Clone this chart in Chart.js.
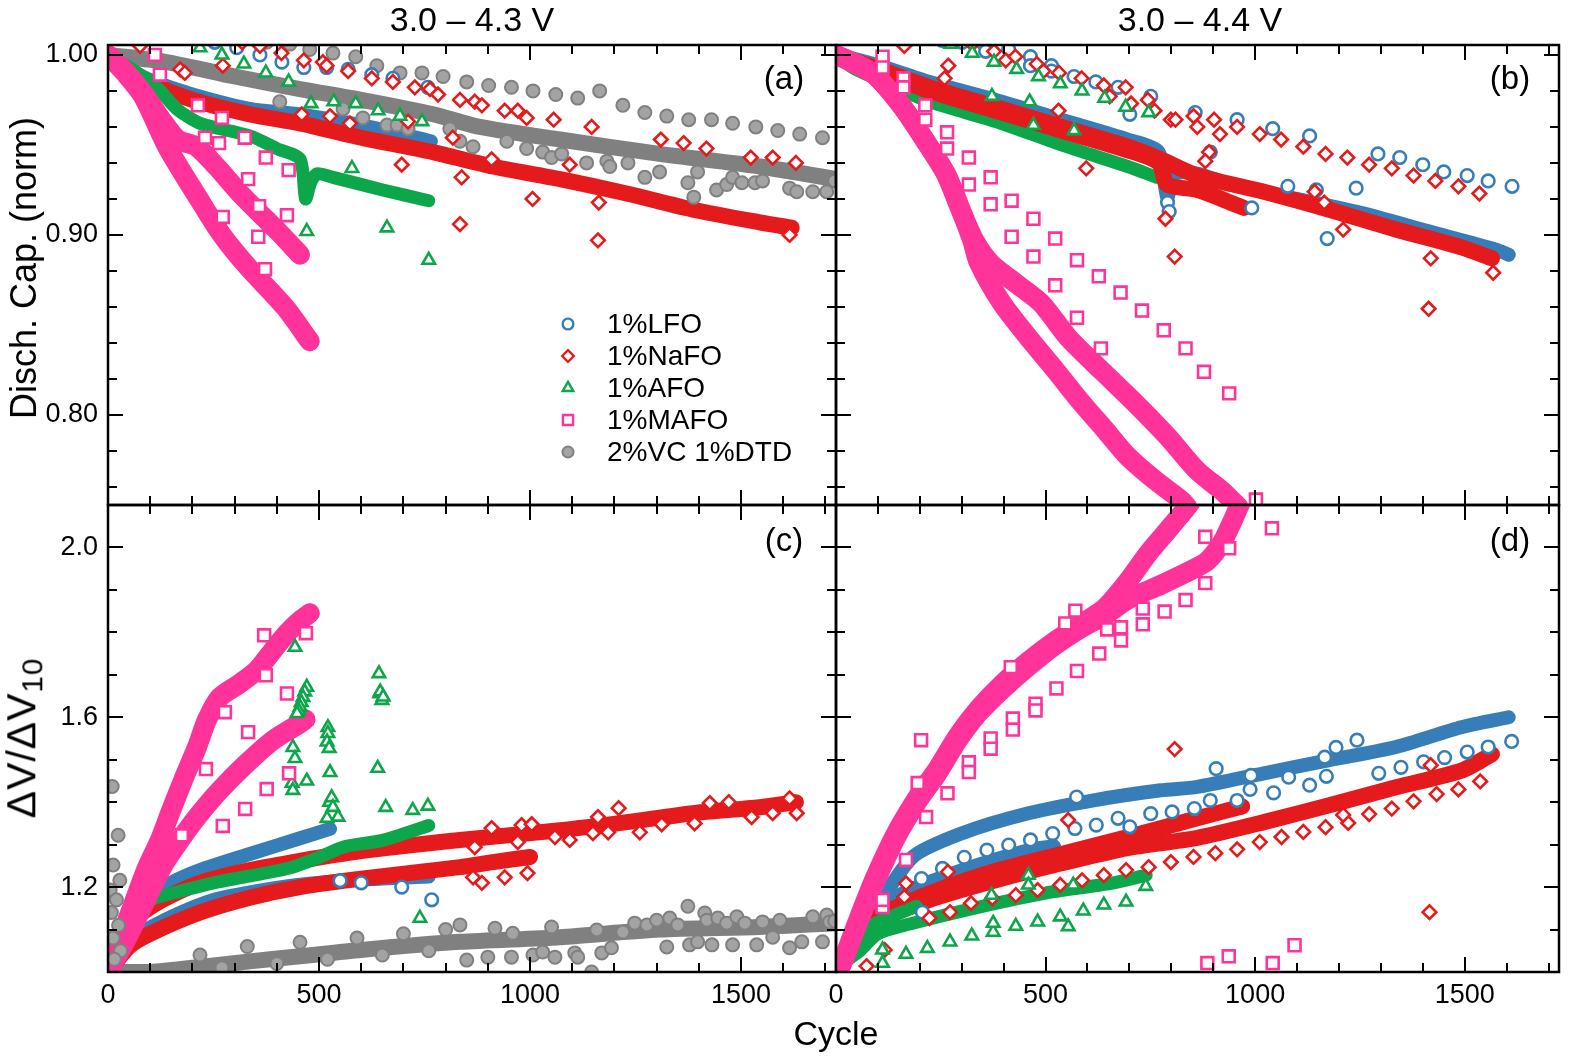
<!DOCTYPE html>
<html>
<head>
<meta charset="utf-8">
<script src="https://cdn.jsdelivr.net/npm/chart.js@4.4.1/dist/chart.umd.min.js"></script>
<style>
  body { margin: 0; background: #fff; width: 1570px; height: 1057px; position: relative; overflow: hidden;
         font-family: "Liberation Sans", Arial, sans-serif; color: #000; }
  canvas { position: absolute; left: 0; top: 0; }
  .t { position: absolute; transform: translate(-50%, -50%); white-space: nowrap; font-size: 34px; z-index: 5; }
  .rot { transform: translate(-50%, -50%) rotate(-90deg); font-size: 36px; }
  sub { font-size: 0.72em; vertical-align: -0.25em; }
</style>
</head>
<body>
<canvas id="pa" width="1570" height="1057"></canvas>
<canvas id="pb" width="1570" height="1057"></canvas>
<canvas id="pc" width="1570" height="1057"></canvas>
<canvas id="pd" width="1570" height="1057"></canvas>

<div class="t" style="left:472px;top:19px">3.0 – 4.3 V</div>
<div class="t" style="left:1200px;top:19px">3.0 – 4.4 V</div>
<div class="t rot" style="left:24px;top:268px">Disch. Cap. (norm)</div>
<div class="t rot" style="left:24px;top:738px;font-size:41px;letter-spacing:1px">ΔV/ΔV<sub>10</sub></div>
<div class="t" style="left:836px;top:1033px">Cycle</div>
<div class="t" style="left:784px;top:78px;font-size:33px">(a)</div>
<div class="t" style="left:1510px;top:78px;font-size:33px">(b)</div>
<div class="t" style="left:784px;top:540px;font-size:33px">(c)</div>
<div class="t" style="left:1510px;top:540px;font-size:33px">(d)</div>

<script>
// Axis ranges and tick labels
const CYCLE_MAX = 1725;
const xTickLabels = [0, 500, 1000, 1500];
const capTickLabels = [0.8, 0.9, 1.0];
const dvTickLabels = [1.2, 1.6, 2.0];
const seriesNames = ['1%LFO', '1%NaFO', '1%AFO', '1%MAFO', '2%VC 1%DTD'];

// ---- (a) 3.0-4.3 V, normalized discharge capacity: [cycle, value]
const aBlueBand = [[0,1.0],[50,0.992],[100,0.986],[200,0.978],[336,0.970],[455,0.967],[600,0.961],[765,0.952]];
const aBluePts = [[253,1.007],[305,1.004],[360,1.0],[412,0.996],[464,0.993],[518,0.993],[569,0.992],[625,0.989],[675,0.987],[758,0.982]];
const aRedBand = [[0,1.0],[50,0.99],[100,0.984],[200,0.975],[336,0.967],[455,0.962],[600,0.954],[770,0.946],[912,0.938],[1071,0.931],[1229,0.923],[1386,0.914],[1544,0.907],[1620,0.904]];
const aRedPts = [[76,1.005],[171,0.992],[182,0.990],[272,0.994],[318,1.007],[360,1.005],[411,1.001],[464,0.997],[509,0.996],[518,0.994],[569,0.991],[625,0.987],[675,0.985],[727,0.982],[763,0.981],[782,0.978],[834,0.975],[869,0.974],[886,0.972],[940,0.969],[971,0.969],[992,0.965],[1056,0.964],[1146,0.960],[1310,0.953],[1364,0.951],[1418,0.948],[1523,0.943],[1575,0.943],[1630,0.940],[459,0.967],[526,0.966],[573,0.962],[711,0.963],[817,0.954],[909,0.942],[1094,0.939],[696,0.939],[838,0.932],[1006,0.920],[1163,0.918],[834,0.906],[1161,0.897],[1615,0.900]];
const aGreenBand = [[0,1.0],[50,0.993],[116,0.982],[163,0.970],[218,0.962],[336,0.955],[400,0.948],[455,0.942],[468,0.920],[480,0.929],[495,0.934],[533,0.932],[651,0.925],[760,0.919]];
const aGreenPts = [[218,1.004],[270,1.0],[322,0.995],[374,0.99],[428,0.985],[481,0.973],[535,0.974],[587,0.973],[640,0.969],[692,0.966],[744,0.963],[578,0.937],[471,0.902],[661,0.904],[760,0.886]];
const aPinkBand1 = [[0,1.0],[40,0.99],[83,0.977],[140,0.949],[178,0.934],[218,0.919],[258,0.904],[296,0.892],[336,0.881],[419,0.860],[478,0.841]];
const aPinkBand2 = [[0,1.0],[40,0.991],[83,0.979],[130,0.963],[165,0.953],[210,0.949],[257,0.938],[313,0.923],[360,0.912],[407,0.901],[455,0.889]];
const aPinkPts = [[111,1.0],[123,0.989],[213,0.972],[270,0.965],[230,0.954],[263,0.951],[324,0.954],[374,0.943],[428,0.936],[332,0.931],[358,0.916],[424,0.911],[272,0.910],[356,0.899],[372,0.881]];
const aGrayBand = [[0,1.0],[139,0.996],[300,0.988],[455,0.981],[600,0.975],[770,0.967],[881,0.960],[1071,0.953],[1307,0.945],[1544,0.938],[1725,0.931]];
const aGrayPts = [[376,1.007],[431,1.006],[478,1.003],[533,1.001],[587,0.999],[637,0.994],[692,0.99],[744,0.99],[794,0.988],[850,0.985],[902,0.983],[956,0.982],[1007,0.98],[1061,0.978],[1113,0.976],[1165,0.98],[1220,0.972],[1272,0.968],[1324,0.966],[1376,0.964],[1430,0.964],[1480,0.962],[1535,0.96],[1587,0.958],[1639,0.956],[1693,0.954],
  [407,0.974],[557,0.970],[604,0.965],[661,0.961],[685,0.961],[711,0.959],[810,0.959],[834,0.952],[865,0.949],[945,0.952],[992,0.948],[1030,0.946],[1051,0.943],[1075,0.945],[1134,0.94],[1182,0.941],[1189,0.938],[1232,0.94],[1272,0.932],[1307,0.935],[1374,0.929],[1388,0.921],[1397,0.935],[1442,0.925],[1466,0.928],[1480,0.932],[1502,0.929],[1533,0.929],[1551,0.93],[1615,0.926],[1632,0.924],[1670,0.924],[1703,0.924],[1722,0.930]];

// ---- (b) 3.0-4.4 V, normalized discharge capacity
const bBlueBand = [[0,1.0],[40,0.998],[104,0.994],[223,0.985],[381,0.975],[538,0.964],[696,0.953],[770,0.946],[790,0.921],[810,0.934],[862,0.934],[941,0.928],[1099,0.920],[1257,0.912],[1414,0.902],[1573,0.892],[1605,0.889]];
const bBluePts = [[253,1.008],[301,1.007],[353,1.006],[357,1.002],[412,1.003],[464,0.999],[464,0.994],[514,0.994],[514,0.991],[568,0.988],[620,0.985],[673,0.982],[701,0.967],[751,0.977],[857,0.968],[893,0.946],[957,0.964],[1042,0.959],[1130,0.955],[1078,0.927],[1146,0.925],[1241,0.926],[1293,0.945],[1345,0.943],[1400,0.939],[1450,0.935],[1506,0.933],[1556,0.93],[1613,0.927],[1172,0.898],[992,0.915],[791,0.918],[795,0.913]];
const bRedBand1 = [[0,1.0],[40,0.997],[104,0.992],[223,0.982],[381,0.971],[538,0.960],[696,0.949],[775,0.942],[862,0.933],[1021,0.924],[1177,0.914],[1336,0.903],[1494,0.893],[1565,0.887]];
const bRedBand2 = [[0,1.0],[104,0.991],[223,0.980],[381,0.969],[538,0.958],[696,0.947],[770,0.940],[790,0.928],[862,0.925],[920,0.920],[973,0.915]];
const bRedPts = [[163,1.005],[268,0.994],[259,0.987],[325,1.006],[377,1.002],[405,0.997],[428,0.999],[479,0.995],[495,0.991],[532,0.99],[586,0.987],[639,0.983],[653,0.977],[691,0.982],[704,0.973],[744,0.975],[760,0.969],[799,0.964],[810,0.964],[853,0.966],[862,0.96],[531,0.969],[597,0.937],[786,0.909],[808,0.888],[902,0.964],[916,0.956],[957,0.96],[1011,0.956],[1062,0.953],[1115,0.949],[1168,0.945],[1220,0.943],[1272,0.939],[1326,0.937],[1378,0.933],[1430,0.93],[1485,0.927],[1535,0.923],[890,0.946],[881,0.941],[1142,0.924],[1165,0.918],[1210,0.903],[1419,0.887],[1568,0.879],[1414,0.859]];
const bGreenBand = [[0,1.0],[40,0.993],[104,0.986],[223,0.974],[381,0.963],[538,0.950],[696,0.938],[765,0.932]];
const bGreenPts = [[274,1.006],[325,1.001],[377,0.996],[431,0.992],[483,0.988],[535,0.984],[587,0.98],[641,0.976],[691,0.971],[746,0.968],[372,0.977],[462,0.974],[471,0.961],[568,0.958]];
const bPinkBand1 = [[0,1.0],[30,0.997],[92,0.989],[159,0.971],[211,0.953],[262,0.934],[294,0.916],[325,0.897],[340,0.885],[396,0.862],[459,0.843],[523,0.825],[585,0.807],[641,0.792],[696,0.777],[760,0.764],[822,0.753],[838,0.749]];
const bPinkBand2 = [[0,1.0],[30,0.997],[92,0.989],[159,0.971],[211,0.953],[262,0.934],[294,0.916],[330,0.897],[370,0.884],[430,0.873],[490,0.862],[554,0.843],[632,0.825],[712,0.807],[791,0.788],[862,0.769],[920,0.758],[960,0.749]];
const bPinkPts = [[111,0.999],[111,0.993],[161,0.987],[161,0.982],[213,0.972],[213,0.964],[265,0.957],[265,0.948],[317,0.943],[317,0.928],[369,0.932],[369,0.917],[419,0.919],[419,0.899],[471,0.909],[471,0.888],[523,0.898],[523,0.872],[575,0.886],[575,0.854],[627,0.877],[632,0.837],[679,0.868],[730,0.858],[782,0.847],[834,0.837],[878,0.824],[938,0.812],[1002,0.753]];

// ---- (c) 3.0-4.3 V, dV/dV10
const cBlueBand1 = [[0,1.0],[40,1.10],[80,1.16],[150,1.21],[218,1.24],[336,1.278],[455,1.315],[526,1.337]];
const cBlueBand2 = [[0,1.0],[60,1.08],[150,1.13],[250,1.17],[350,1.19],[450,1.205],[560,1.215],[650,1.22],[760,1.225]];
const cBluePts = [[550,1.215],[600,1.21],[696,1.20],[767,1.17]];
const cRedBand1 = [[0,1.0],[30,1.08],[70,1.13],[130,1.17],[218,1.21],[336,1.24],[455,1.262],[600,1.285],[834,1.311],[1071,1.334],[1229,1.353],[1386,1.374],[1544,1.388],[1630,1.40]];
const cRedBand2 = [[0,1.0],[50,1.06],[100,1.09],[218,1.14],[336,1.175],[455,1.20],[600,1.22],[834,1.247],[912,1.259],[1000,1.271]];
const cRedPts = [[909,1.339],[980,1.346],[1004,1.348],[1059,1.318],[1094,1.311],[1161,1.365],[1185,1.329],[1210,1.386],[1260,1.329],[1312,1.348],[1390,1.35],[1426,1.398],[1471,1.40],[1525,1.365],[1575,1.374],[1615,1.409],[1632,1.374],[865,1.223],[886,1.21],[940,1.223],[994,1.233],[869,1.294],[971,1.306],[1149,1.327]];
const cGreenBand = [[0,1.0],[30,1.09],[60,1.14],[100,1.17],[170,1.19],[250,1.21],[330,1.225],[430,1.245],[500,1.27],[560,1.295],[650,1.31],[760,1.345]];
const cGreenPts = [[471,1.671],[466,1.66],[462,1.647],[458,1.635],[455,1.624],[452,1.615],[448,1.609],[443,1.765],[438,1.529],[443,1.503],[471,1.45],[436,1.445],[438,1.428],[521,1.576],[521,1.562],[519,1.542],[524,1.527],[526,1.47],[525,1.40],[530,1.411],[533,1.388],[545,1.365],[519,1.362],[642,1.703],[644,1.656],[645,1.66],[649,1.64],[652,1.648],[639,1.48],[658,1.388],[722,1.381],[758,1.391],[739,1.127]];
const cPinkBand1 = [[0,1.0],[30,1.08],[60,1.16],[90,1.24],[123,1.311],[147,1.374],[178,1.452],[211,1.53],[234,1.593],[265,1.647],[313,1.68],[352,1.71],[391,1.758],[424,1.798],[455,1.828],[478,1.845]];
const cPinkBand2 = [[0,1.0],[40,1.07],[90,1.17],[130,1.25],[171,1.311],[211,1.365],[265,1.428],[329,1.492],[391,1.546],[455,1.586],[468,1.595]];
const cPinkPts = [[370,1.793],[469,1.798],[374,1.699],[424,1.656],[332,1.565],[232,1.478],[429,1.468],[376,1.431],[325,1.384],[272,1.344],[277,1.612],[175,1.322]];
const cGrayBand = [[0,1.0],[100,1.0],[218,1.012],[336,1.025],[455,1.037],[600,1.052],[834,1.071],[1071,1.082],[1307,1.10],[1544,1.106],[1725,1.115]];
const cGrayPts = [[10,1.437],[24,1.322],[12,1.252],[28,1.216],[5,1.193],[20,1.17],[8,1.14],[25,1.11],[12,1.08],[30,1.05],[15,1.03],
  [218,1.04],[270,1.01],[330,1.06],[400,1.02],[455,1.07],[520,1.03],[590,1.08],[650,1.04],[700,1.09],[760,1.05],[800,1.10],
  [834,1.111],[850,1.028],[900,1.035],[917,1.103],[956,1.035],[959,1.091],[1007,1.04],[1030,1.047],[1051,1.106],[1059,1.035],[1106,1.045],[1113,1.035],[1146,1.0],[1158,1.099],[1170,1.045],[1193,1.057],[1220,1.094],[1248,1.115],[1277,1.111],[1300,1.122],[1324,1.059],[1331,1.127],[1350,1.111],[1374,1.155],[1378,1.064],[1397,1.071],[1414,1.139],[1419,1.122],[1431,1.064],[1445,1.127],[1466,1.115],[1480,1.064],[1490,1.13],[1509,1.115],[1537,1.064],[1551,1.118],[1575,1.082],[1592,1.122],[1615,1.057],[1644,1.071],[1670,1.13],[1693,1.071],[1703,1.134],[1710,1.118],[1722,1.12]];

// ---- (d) 3.0-4.4 V, dV/dV10
const dBlueBand1 = [[0,1.0],[30,1.06],[88,1.139],[183,1.271],[301,1.327],[459,1.374],[618,1.405],[775,1.428],[862,1.436],[1021,1.468],[1177,1.499],[1336,1.53],[1494,1.577],[1605,1.60]];
const dBlueBand2 = [[0,1.0],[50,1.08],[144,1.177],[301,1.24],[459,1.287],[520,1.296]];
const dBluePts = [[574,1.412],[570,1.338],[621,1.346],[673,1.362],[701,1.342],[751,1.373],[802,1.377],[855,1.385],[517,1.326],[464,1.311],[412,1.299],[360,1.287],[306,1.27],[254,1.244],[204,1.22],[206,1.141],[893,1.404],[907,1.479],[957,1.404],[988,1.43],[990,1.463],[1044,1.422],[1080,1.459],[1130,1.44],[1170,1.461],[1166,1.506],[1193,1.529],[1243,1.546],[1295,1.468],[1348,1.482],[1402,1.495],[1452,1.505],[1506,1.518],[1556,1.53],[1612,1.543]];
const dRedBand1 = [[0,1.0],[30,1.06],[64,1.092],[120,1.13],[223,1.17],[381,1.216],[538,1.256],[696,1.292],[862,1.316],[1021,1.353],[1177,1.393],[1336,1.435],[1494,1.475],[1565,1.513]];
const dRedBand2 = [[0,1.0],[40,1.08],[100,1.13],[223,1.185],[381,1.238],[538,1.278],[696,1.318],[862,1.362],[969,1.39]];
const dRedPts = [[167,1.209],[163,1.177],[267,1.236],[272,1.141],[322,1.162],[223,1.127],[373,1.174],[429,1.181],[481,1.193],[535,1.205],[587,1.216],[639,1.228],[692,1.24],[746,1.247],[799,1.259],[853,1.271],[554,1.358],[116,1.052],[73,1.014],[905,1.28],[957,1.289],[1011,1.306],[1063,1.318],[1115,1.33],[1168,1.341],[1222,1.351],[1210,1.37],[1272,1.372],[1326,1.385],[1378,1.402],[1433,1.419],[1485,1.43],[1537,1.449],[1419,1.487],[1416,1.141],[808,1.525]];
const dGreenBand1 = [[0,1.0],[30,1.03],[57,1.05],[100,1.09],[183,1.115],[341,1.153],[500,1.186],[656,1.209],[740,1.228]];
const dGreenBand2 = [[0,1.0],[40,1.07],[64,1.10],[130,1.13],[192,1.155]];
const dGreenPts = [[111,1.021],[111,1.052],[167,1.042],[218,1.056],[272,1.071],[324,1.085],[375,1.094],[375,1.115],[429,1.108],[481,1.118],[535,1.13],[554,1.107],[590,1.144],[639,1.158],[692,1.165],[739,1.202],[459,1.228],[459,1.205],[371,1.181],[566,1.205]];
const dPinkBand1 = [[0,1.0],[10,1.01],[50,1.115],[90,1.215],[145,1.33],[200,1.42],[240,1.475],[290,1.555],[340,1.62],[396,1.678],[459,1.732],[523,1.78],[585,1.82],[641,1.857],[696,1.92],[744,1.985],[791,2.04],[831,2.087],[845,2.105]];
const dPinkBand2 = [[0,1.0],[10,1.01],[50,1.11],[90,1.205],[145,1.32],[200,1.41],[240,1.465],[290,1.545],[340,1.61],[396,1.665],[459,1.72],[523,1.77],[585,1.81],[641,1.84],[696,1.877],[775,1.912],[855,1.95],[886,1.968],[920,2.01],[945,2.06],[965,2.105]];
const dPinkPts = [[111,1.153],[111,1.17],[167,1.264],[215,1.365],[203,1.546],[195,1.445],[266,1.421],[317,1.494],[317,1.471],[369,1.55],[369,1.526],[422,1.597],[422,1.571],[476,1.632],[476,1.616],[526,1.668],[575,1.709],[628,1.75],[680,1.812],[680,1.781],[647,1.807],[732,1.856],[732,1.819],[784,1.849],[834,1.876],[881,1.916],[881,2.025],[938,1.998],[1040,2.045],[571,1.851],[547,1.821],[417,1.718],[886,1.021],[937,1.037],[1042,1.021],[1094,1.063]];

// Marker styles per additive
const STYLE = {
  LFO:  { color: '#377eb8', shape: 'circle',   r: 6.3, band: 14 },
  NaFO: { color: '#e41a1c', shape: 'rectRot',  r: 6.8, band: 16 },
  AFO:  { color: '#0da64b', shape: 'triangle', r: 7.2, band: 13 },
  MAFO: { color: '#ff3399', shape: 'rect',     r: 8.4, band: 20 },
  DTD:  { color: '#808080', shape: 'circle',   r: 6.5, band: 16, fill: '#a3a3a3' }
};

function toXY(arr) {
  return arr.map(p => ({ x: p[0], y: p[1] }));
}

// dense runs of overlapping markers -> thick line
function band(arr, key) {
  const s = STYLE[key];
  return {
    data: toXY(arr), showLine: true, pointRadius: 0, pointHoverRadius: 0,
    borderColor: s.color, backgroundColor: s.color, borderWidth: s.band,
    borderCapStyle: 'round', borderJoinStyle: 'round', tension: 0.25
  };
}

// sparse check-up cycles -> open markers
function marks(arr, key) {
  const s = STYLE[key];
  return {
    data: toXY(arr), showLine: false, pointStyle: s.shape, pointRadius: s.r, pointHoverRadius: s.r,
    pointBorderWidth: key === 'DTD' ? 2 : 2.6, pointBorderColor: s.color,
    pointBackgroundColor: s.fill || '#fff'
  };
}

// frame + inward major/minor ticks on all four sides
const frameTicks = {
  id: 'frameTicks',
  afterDraw(chart, args, o) {
    const { ctx, chartArea: ca } = chart;
    const x = chart.scales.x, y = chart.scales.y;
    ctx.save();
    ctx.strokeStyle = '#000';
    ctx.lineWidth = 2;
    ctx.beginPath();
    for (let v = 100; v < x.max; v += 100) {
      const px = Math.round(x.getPixelForValue(v));
      const len = v % 500 === 0 ? 15 : 9;
      ctx.moveTo(px, ca.bottom); ctx.lineTo(px, ca.bottom - len);
      ctx.moveTo(px, ca.top); ctx.lineTo(px, ca.top + len);
    }
    const k0 = Math.ceil(y.min / o.minor - 1e-6), k1 = Math.floor(y.max / o.minor + 1e-6);
    for (let k = k0; k <= k1; k++) {
      const v = k * o.minor;
      if (Math.abs(v - y.min) < 1e-6 || Math.abs(v - y.max) < 1e-6) continue;
      const q = (v - o.base) / o.major;
      const len = Math.abs(q - Math.round(q)) < 1e-6 ? 15 : 9;
      const py = Math.round(y.getPixelForValue(v));
      ctx.moveTo(ca.left, py); ctx.lineTo(ca.left + len, py);
      ctx.moveTo(ca.right, py); ctx.lineTo(ca.right - len, py);
    }
    ctx.stroke();
    ctx.lineWidth = 2.5;
    ctx.strokeRect(ca.left, ca.top, ca.right - ca.left, ca.bottom - ca.top);
    ctx.restore();
  }
};

// legend inside panel (a)
const legendBox = {
  id: 'legendBox',
  afterDraw(chart) {
    const ctx = chart.ctx;
    const keys = ['LFO', 'NaFO', 'AFO', 'MAFO', 'DTD'];
    ctx.save();
    ctx.font = '28px "Liberation Sans"';
    ctx.textBaseline = 'middle';
    keys.forEach((k, i) => {
      const s = STYLE[k];
      const yy = 324 + i * 32;
      ctx.lineWidth = k === 'DTD' ? 2 : 2.4;
      ctx.strokeStyle = s.color;
      ctx.fillStyle = s.fill || '#fff';
      Chart.helpers.drawPoint(ctx, { pointStyle: s.shape, radius: s.r * 0.85, borderWidth: ctx.lineWidth, rotation: 0 }, 568, yy);
      ctx.fillStyle = '#000';
      ctx.fillText(seriesNames[i], 607, yy + 1);
    });
    ctx.restore();
  }
};

const tickFont = { family: 'Liberation Sans', size: 27 };

function makePanel(id, datasets, o) {
  return new Chart(document.getElementById(id), {
    type: 'scatter',
    data: { datasets },
    options: {
      responsive: false, animation: false, devicePixelRatio: 1, events: [],
      layout: { padding: o.pad },
      plugins: { legend: { display: false }, tooltip: { enabled: false }, frameTicks: o.ticks },
      scales: {
        x: {
          type: 'linear', min: 0, max: CYCLE_MAX, display: o.showX,
          afterBuildTicks: s => { s.ticks = xTickLabels.map(v => ({ value: v })); },
          afterFit: s => { if (o.showX) s.height = 50; },
          ticks: { font: tickFont, color: '#000', padding: 7, maxRotation: 0, autoSkip: false, callback: v => String(v) },
          grid: { display: false, drawTicks: false }, border: { display: false }
        },
        y: {
          type: 'linear', min: o.yMin, max: o.yMax, display: o.showY,
          afterBuildTicks: s => { s.ticks = o.yLabels.map(v => ({ value: v })); },
          afterFit: s => { if (o.showY) s.width = 100; },
          ticks: { font: tickFont, color: '#000', padding: 10, callback: v => v.toFixed(o.dec) },
          grid: { display: false, drawTicks: false }, border: { display: false }
        }
      }
    },
    plugins: o.extra ? [frameTicks, o.extra] : [frameTicks]
  });
}

const capTicks = { minor: 0.02, major: 0.1, base: 0.8 };
const dvTicks = { minor: 0.1, major: 0.4, base: 1.2 };

makePanel('pa', [
  marks(aPinkPts, 'MAFO'), marks(aGreenPts, 'AFO'), marks(aRedPts, 'NaFO'), marks(aBluePts, 'LFO'), marks(aGrayPts, 'DTD'),
  band(aPinkBand1, 'MAFO'), band(aPinkBand2, 'MAFO'), band(aGreenBand, 'AFO'), band(aRedBand, 'NaFO'),
  band(aBlueBand, 'LFO'), band(aGrayBand, 'DTD')
], { pad: { left: 8, top: 45, right: 734, bottom: 552 }, showX: false, showY: true,
     yMin: 0.75, yMax: 1.0055, yLabels: capTickLabels, dec: 2, ticks: capTicks, extra: legendBox });

makePanel('pb', [
  marks(bPinkPts, 'MAFO'), marks(bGreenPts, 'AFO'), marks(bRedPts, 'NaFO'), marks(bBluePts, 'LFO'),
  band(bPinkBand1, 'MAFO'), band(bPinkBand2, 'MAFO'), band(bRedBand1, 'NaFO'), band(bRedBand2, 'NaFO'),
  band(bGreenBand, 'AFO'), band(bBlueBand, 'LFO')
], { pad: { left: 836, top: 45, right: 5, bottom: 552 }, showX: false, showY: false,
     yMin: 0.75, yMax: 1.0055, yLabels: capTickLabels, dec: 2, ticks: capTicks });

makePanel('pc', [
  marks(cPinkPts, 'MAFO'), marks(cGreenPts, 'AFO'), marks(cRedPts, 'NaFO'), marks(cBluePts, 'LFO'), marks(cGrayPts, 'DTD'),
  band(cPinkBand1, 'MAFO'), band(cPinkBand2, 'MAFO'), band(cGreenBand, 'AFO'), band(cRedBand1, 'NaFO'), band(cRedBand2, 'NaFO'),
  band(cBlueBand1, 'LFO'), band(cBlueBand2, 'LFO'), band(cGrayBand, 'DTD')
], { pad: { left: 8, top: 505, right: 734, bottom: 35 }, showX: true, showY: true,
     yMin: 1.0, yMax: 2.1, yLabels: dvTickLabels, dec: 1, ticks: dvTicks });

makePanel('pd', [
  marks(dPinkPts, 'MAFO'), marks(dGreenPts, 'AFO'), marks(dRedPts, 'NaFO'), marks(dBluePts, 'LFO'),
  band(dPinkBand1, 'MAFO'), band(dPinkBand2, 'MAFO'), band(dGreenBand2, 'AFO'), band(dGreenBand1, 'AFO'),
  band(dRedBand1, 'NaFO'), band(dRedBand2, 'NaFO'), band(dBlueBand1, 'LFO'), band(dBlueBand2, 'LFO')
], { pad: { left: 836, top: 505, right: 5, bottom: 35 }, showX: true, showY: false,
     yMin: 1.0, yMax: 2.1, yLabels: dvTickLabels, dec: 1, ticks: dvTicks });
</script>
</body>
</html>
